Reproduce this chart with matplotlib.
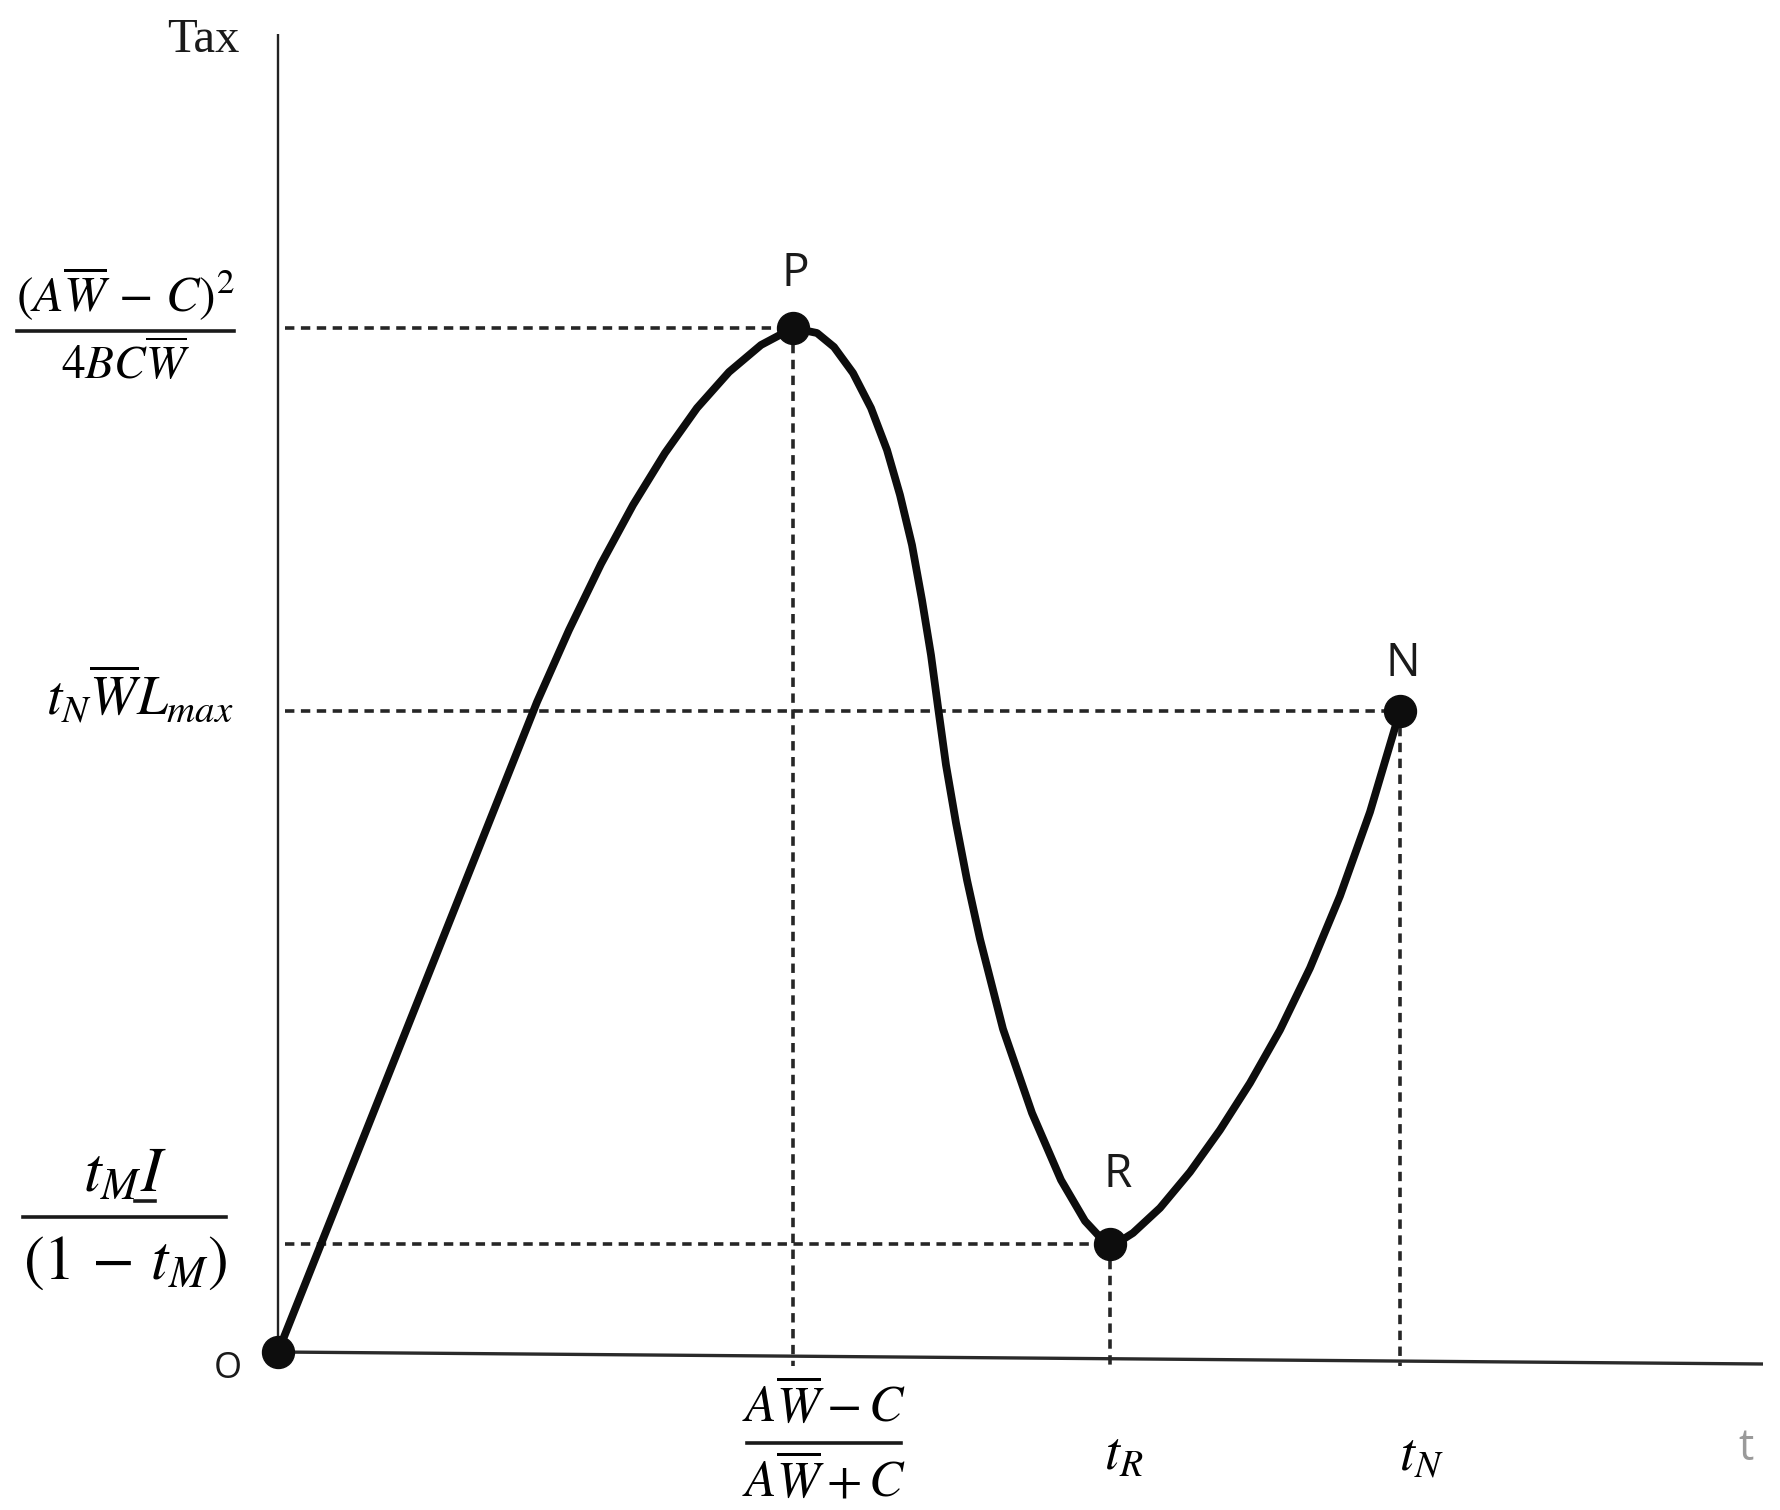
import matplotlib
matplotlib.use('Agg')
import matplotlib.pyplot as plt

plt.rcParams['mathtext.fontset'] = 'stix'

# curve (t, tax), arbitrary units
curve_t = [0, 259, 291, 323, 355, 387, 419, 451, 483, 515,
           539, 556, 575, 593, 609, 622, 634, 644, 653, 660,
           668, 678, 689, 702, 725, 754, 783, 807, 820, 832,
           844, 855, 882, 912, 942, 972, 1002, 1032, 1062, 1092,
           1122]
curve_tax = [0, 650, 722, 788, 847, 899, 944, 980, 1007, 1024,
             1019, 1005, 979, 944, 902, 857, 807, 752, 697, 645,
             587, 529, 472, 413, 323, 239, 172, 131, 117, 108,
             112, 119, 144, 180, 222, 269, 322, 384, 456, 540,
             641]

# key points O, P, R, N
pt_names = ['O', 'P', 'R', 'N']
pt_t = [0, 515, 832, 1122]
pt_tax = [0, 1024, 108, 641]

ink = '#0d0d0d'
guide = '#262626'

fig = plt.figure(figsize=(17.8, 15.1), dpi=100)
ax = fig.add_axes([0, 0, 1, 1])
ax.set_xlim(-278, 1502)
ax.set_ylim(-158, 1352)
ax.axis('off')

# axes
ax.plot([0, 0], [-4, 1318], color='#222222', lw=1.7, solid_capstyle='butt')
ax.plot([0, 1485], [0, -12], color='#2a2a2a', lw=2.4, solid_capstyle='butt')

# dashed guides from P, R, N to the axes
for t, y in zip(pt_t[1:], pt_tax[1:]):
    ax.plot([7, t], [y, y], color=guide, lw=2.6, dashes=(2.6, 1.8))
    ax.plot([t, t], [y, -14], color=guide, lw=2.6, dashes=(2.6, 1.8))

# curve
ax.plot(curve_t, curve_tax, color=ink, lw=5.6, solid_capstyle='round', solid_joinstyle='round')
ax.plot(pt_t, pt_tax, 'o', color=ink, ms=23)

# point labels
sans = 'Open Sans'
ax.text(517, 1078, 'P', fontsize=33, family=sans, ha='center', va='center', color='#1a1a1a')
ax.text(1125, 688, 'N', fontsize=33, family=sans, ha='center', va='center', color='#1a1a1a')
ax.text(840, 177, 'R', fontsize=33, family=sans, ha='center', va='center', color='#1a1a1a')
ax.text(-50, -17, 'O', fontsize=26, family=sans, ha='center', va='center', color='#1a1a1a')

# axis titles
ax.text(-75, 1312, 'Tax', fontsize=35, family='Liberation Serif', ha='center', va='center', color='#1a1a1a')
ax.text(1468, -97, 't', fontsize=31, family=sans, ha='center', va='center', color='#9a9a9a')

# y labels
ax.text(-153, 1058, r'$(A\overline{W}\,-\,C)^2$', fontsize=36, ha='center', va='center')
ax.plot([-261, -44], [1021, 1021], color='#1a1a1a', lw=2.6)
ax.text(-153, 986, r'$4BC\overline{W}$', fontsize=34, ha='center', va='center')

ax.text(-44, 656, r'$t_N\overline{W}L_{max}$', fontsize=40, ha='right', va='center')

ax.text(-153, 160, r'$t_M I$', fontsize=46, ha='center', va='baseline')
ax.plot([-143, -123], [151, 151], color='#1a1a1a', lw=2.6)
ax.plot([-255, -52], [135, 135], color='#1a1a1a', lw=2.6)
ax.text(-153, 90, r'$(1\,-\,t_M)$', fontsize=45, ha='center', va='center')

# x labels
ax.text(546, -54, r'$A\overline{W}-C$', fontsize=37, ha='center', va='center')
ax.plot([469, 623], [-91, -91], color='#1a1a1a', lw=2.6)
ax.text(546, -129, r'$A\overline{W}+C$', fontsize=37, ha='center', va='center')

ax.text(846, -103, r'$t_R$', fontsize=39, ha='center', va='center')
ax.text(1143, -103, r'$t_N$', fontsize=39, ha='center', va='center')

fig.savefig('out.png', dpi=100, facecolor='white')
